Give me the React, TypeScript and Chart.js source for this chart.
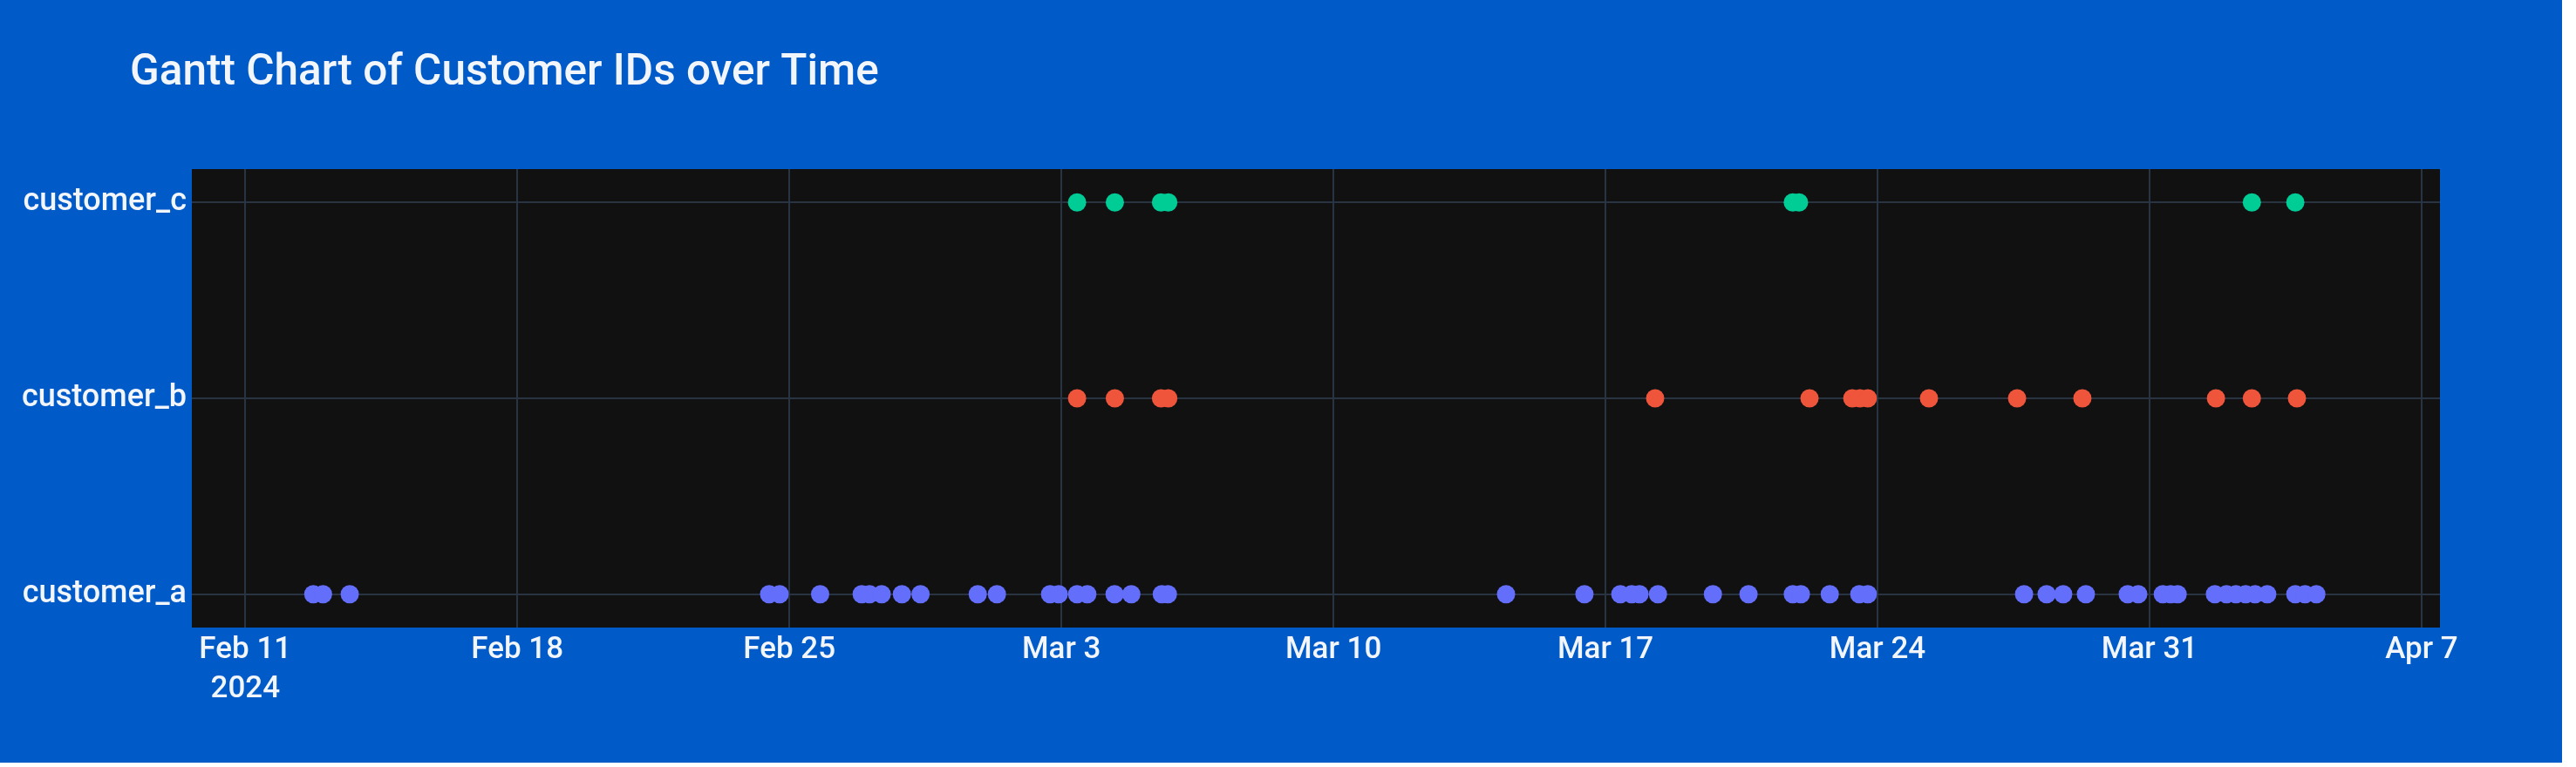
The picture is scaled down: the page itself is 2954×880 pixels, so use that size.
import { useEffect, useRef } from "react";
import { Chart, registerables } from "chart.js";

Chart.register(...registerables);

const W = 2954;
const H = 880;

const TITLE = "Gantt Chart of Customer IDs over Time";
const categories = ["customer_a", "customer_b", "customer_c"];

const customerA = [
  "2024-02-12T18:00", "2024-02-13T00:00", "2024-02-13T16:30",
  "2024-02-24T11:30", "2024-02-24T18:00", "2024-02-25T19:00",
  "2024-02-26T20:40", "2024-02-27T01:30", "2024-02-27T09:00",
  "2024-02-27T21:30", "2024-02-28T09:00", "2024-02-29T20:20",
  "2024-03-01T08:10", "2024-03-02T17:00", "2024-03-02T22:20",
  "2024-03-03T09:40", "2024-03-03T16:00", "2024-03-04T08:50",
  "2024-03-04T19:10", "2024-03-05T14:00", "2024-03-05T17:45",
  "2024-03-14T10:35", "2024-03-16T11:00", "2024-03-17T09:10",
  "2024-03-17T16:10", "2024-03-17T21:00", "2024-03-18T08:25",
  "2024-03-19T18:20", "2024-03-20T16:20", "2024-03-21T19:40",
  "2024-03-22T00:40", "2024-03-22T18:30", "2024-03-23T12:45",
  "2024-03-23T18:00", "2024-03-27T18:30", "2024-03-28T08:25",
  "2024-03-28T18:40", "2024-03-29T08:40", "2024-03-30T10:30",
  "2024-03-30T17:00", "2024-03-31T08:10", "2024-03-31T13:00",
  "2024-03-31T17:20", "2024-04-01T16:20", "2024-04-01T23:30",
  "2024-04-02T05:20", "2024-04-02T11:20", "2024-04-02T17:10",
  "2024-04-03T00:40", "2024-04-03T18:00", "2024-04-04T00:00",
  "2024-04-04T07:00",
];

const customerB = [
  "2024-03-03T09:40", "2024-03-04T09:00", "2024-03-05T13:30",
  "2024-03-05T18:00", "2024-03-18T06:40", "2024-03-22T06:00",
  "2024-03-23T08:25", "2024-03-23T13:10", "2024-03-23T18:00",
  "2024-03-25T07:45", "2024-03-27T14:10", "2024-03-29T06:30",
  "2024-04-01T17:00", "2024-04-02T15:10", "2024-04-03T19:00",
];

const customerC = [
  "2024-03-03T09:40", "2024-03-04T09:00", "2024-03-05T13:30",
  "2024-03-05T18:00", "2024-03-21T19:40", "2024-03-21T23:30",
  "2024-04-02T15:10", "2024-04-03T18:00",
];

const xTickDates = [
  "2024-02-11", "2024-02-18", "2024-02-25", "2024-03-03", "2024-03-10",
  "2024-03-17", "2024-03-24", "2024-03-31", "2024-04-07",
];

const xRange = ["2024-02-09T15:00", "2024-04-07T11:20"];
const yRange = [-0.17, 2.17];

const MONTHS = ["Jan", "Feb", "Mar", "Apr", "May", "Jun", "Jul", "Aug", "Sep", "Oct", "Nov", "Dec"];

const toMs = (s: string) => Date.parse(s.length <= 10 ? s + "T00:00Z" : s + "Z");

const seriesColors = ["#636efa", "#ef553b", "#00cc96"];
const seriesData = [customerA, customerB, customerC];

const FONT = "Roboto";
const TEXT = "#f2f5fa";

const bgPlugin = {
  id: "plotBg",
  beforeDraw(chart: any) {
    const { ctx, chartArea } = chart;
    ctx.save();
    ctx.fillStyle = "#111111";
    ctx.fillRect(chartArea.left, chartArea.top, chartArea.right - chartArea.left, chartArea.bottom - chartArea.top);
    ctx.restore();
  },
};

const titlePlugin = {
  id: "titleText",
  afterDraw(chart: any) {
    const ctx = chart.ctx;
    ctx.save();
    ctx.font = `500 49.5px ${FONT}`;
    ctx.fillStyle = TEXT;
    ctx.textBaseline = "alphabetic";
    ctx.textAlign = "left";
    ctx.fillText(TITLE, 149, 97);
    ctx.restore();
  },
};

export default function App() {
  const ref = useRef<HTMLCanvasElement>(null);

  useEffect(() => {
    document.body.style.margin = "0";
    document.body.style.background = "#ffffff";
    const tickValues = xTickDates.map(toMs);
    const chart = new Chart(ref.current!, {
      type: "scatter",
      data: {
        datasets: seriesData.map((arr, i) => ({
          label: categories[i],
          data: arr.map((d) => ({ x: toMs(d), y: i })),
          backgroundColor: seriesColors[i],
          borderWidth: 0,
          pointRadius: 10.5,
          pointHoverRadius: 10.5,
        })),
      },
      options: {
        animation: false,
        responsive: false,
        maintainAspectRatio: false,
        layout: { padding: { left: 0, top: 194, right: W - 2798, bottom: 0 } },
        plugins: {
          legend: { display: false },
          tooltip: { enabled: false },
          title: { display: false },
        },
        scales: {
          x: {
            type: "linear",
            position: "bottom",
            min: toMs(xRange[0]),
            max: toMs(xRange[1]),
            afterFit: (s: any) => {
              s.height = H - 720;
            },
            afterBuildTicks: (s: any) => {
              s.ticks = tickValues.map((v) => ({ value: v }));
            },
            ticks: {
              autoSkip: false,
              maxRotation: 0,
              minRotation: 0,
              color: TEXT,
              padding: 4,
              font: { family: FONT, size: 35, weight: "500", lineHeight: 1.29 },
              callback: (v: any, idx: number) => {
                const d = new Date(Number(v));
                const lab = `${MONTHS[d.getUTCMonth()]} ${d.getUTCDate()}`;
                return idx === 0 ? [lab, String(d.getUTCFullYear())] : lab;
              },
            },
            grid: { color: "#283442", lineWidth: 2, drawTicks: false },
            border: { display: false },
          },
          y: {
            type: "linear",
            min: yRange[0],
            max: yRange[1],
            afterFit: (s: any) => {
              s.width = 220;
            },
            afterBuildTicks: (s: any) => {
              s.ticks = categories.map((_, i) => ({ value: i }));
            },
            ticks: {
              color: TEXT,
              padding: 6,
              font: { family: FONT, size: 36, weight: "500" },
              callback: (v: any) => categories[Math.round(Number(v))] ?? "",
            },
            grid: { color: "#283442", lineWidth: 2, drawTicks: false },
            border: { display: false },
          },
        },
      } as any,
      plugins: [bgPlugin, titlePlugin],
    });
    return () => chart.destroy();
  }, []);

  return (
    <div style={{ position: "relative", width: 2938, height: 875, background: "#005bc9" }}>
      <canvas ref={ref} width={W} height={H} style={{ position: "absolute", left: 0, top: 0 }} />
    </div>
  );
}
